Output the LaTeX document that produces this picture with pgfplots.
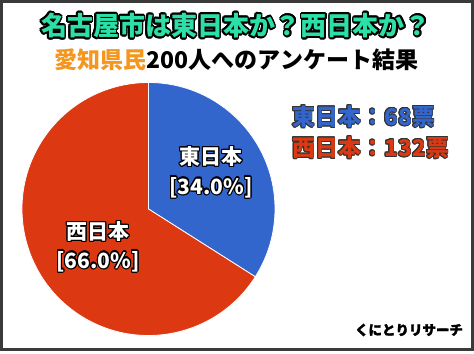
\documentclass[border=0pt]{standalone}
\usepackage{fontspec}
\setmainfont{Noto Sans CJK JP}
\usepackage{pgfplots}
\usepackage{pgfplotstable}
\pgfplotsset{compat=1.18}
\usepackage{contour}
\contournumber{16}
\definecolor{eastblue}{HTML}{3366CC}
\definecolor{westred}{HTML}{DC3912}
\definecolor{titlegreen}{HTML}{2CDFA6}
\definecolor{aichiorange}{HTML}{F5961E}
\definecolor{framegray}{HTML}{3A3A3A}
\pgfplotstableread{
id votes
1 68
2 132
}\votes
\begin{document}
\begin{tikzpicture}[x=1pt,y=1pt]
\fill[white] (0,0) rectangle (474,351);
\draw[framegray, line width=3pt] (1.5,1.5) rectangle (472.5,349.5);
\pgfplotstablegetelem{0}{votes}\of\votes \edef\eastv{\pgfplotsretval}
\pgfplotstablegetelem{1}{votes}\of\votes \edef\westv{\pgfplotsretval}
\pgfmathsetmacro\total{\eastv+\westv}
\pgfmathsetmacro\frac{\eastv/\total}
\pgfmathsetmacro\angE{90-360*\frac}
\begin{axis}[at={(148.5pt,142pt)}, anchor=center, x=126.5pt, y=126.5pt,
  xmin=-1, xmax=1, ymin=-1, ymax=1, hide axis, clip=false]
\fill[eastblue, draw=white, line width=0.8pt] (axis cs:0,0) -- (axis cs:0,1)
  arc[start angle=90, end angle=\angE, radius=126.5pt] -- cycle;
\fill[westred, draw=white, line width=0.8pt] (axis cs:0,0) -- (axis cs:{cos(\angE)},{sin(\angE)})
  arc[start angle=\angE, end angle=-270, radius=126.5pt] -- cycle;
\end{axis}
% title
\node[font=\bfseries\fontsize{26}{28}\selectfont, inner sep=0pt] at (236,324.5)
  {\contourlength{1.8pt}\color{titlegreen}\contour{black}{名古屋市は東日本か？西日本か？}};
\node[font=\bfseries\fontsize{23}{25}\selectfont, inner sep=0pt] at (236.5,291)
  {\textcolor{aichiorange}{愛知県民}200人へのアンケート結果};
% slice labels
\begin{scope}[every node/.style={font=\bfseries\fontsize{21}{23}\selectfont, inner sep=0pt, text=white}]
\contourlength{1.2pt}
\node at (211,194) {\contour{black}{東日本}};
\node at (211,163) {\contour{black}{[34.0\%]}};
\node at (98,119) {\contour{black}{西日本}};
\node at (98,89) {\contour{black}{[66.0\%]}};
\end{scope}
% legend
\begin{scope}[every node/.style={font=\bfseries\fontsize{23}{25}\selectfont, inner sep=0pt, anchor=west}]
\contourlength{0.7pt}
\node at (292,234) {\color{eastblue}\contour{black!80}{東日本：68票}};
\node at (292,203) {\color{westred}\contour{black!80}{西日本：132票}};
\end{scope}
% logo
\node[font=\bfseries\fontsize{13.5}{14}\selectfont, inner sep=0pt] at (409,21) {\addfontfeature{FakeBold=2}くにとりリサーチ};
\end{tikzpicture}
\end{document}
